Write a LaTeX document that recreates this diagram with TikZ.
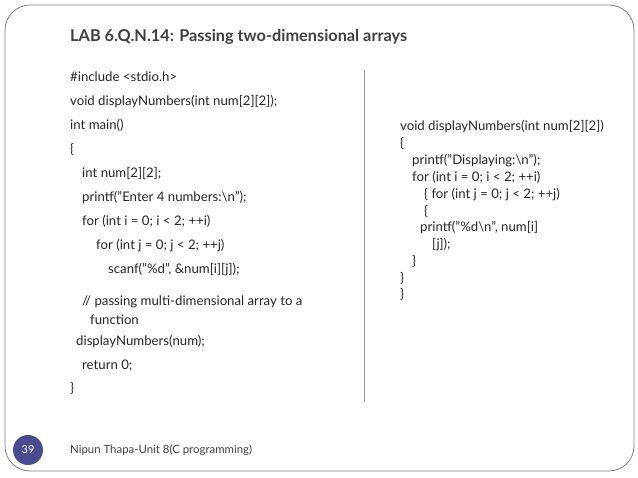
\documentclass[tikz,border=0pt]{standalone}
\usepackage{fontspec}
\setmainfont{Lato}
\definecolor{txt}{HTML}{262626}
\definecolor{ttl}{HTML}{404040}
\definecolor{circ}{HTML}{4B4B8F}
\newcommand{\dq}{\symbol{34}}
\begin{document}
\begin{tikzpicture}[x=1pt,y=-1pt,
 code/.style={anchor=base west,inner sep=0pt,font=\fontsize{13.2}{15}\selectfont,text=txt}]
\useasboundingbox (0,0) rectangle (638,478);
\fill[white] (0,0) rectangle (638,478);
\draw[gray,line width=0.8pt,rounded corners=25pt] (5,5) rectangle (634,471);
\node[code,font=\bfseries\fontsize{16.3}{19}\selectfont,text=ttl] (title) at (70,42) {LAB 6.Q.N.14: Passing two-dimensional arrays};
\draw[gray!80,line width=0.8pt] (364,70) -- (364,402);
% left column
\node[code] (l1) at (70,82) {\#include <stdio.h>};
\node[code] (l2) at (70,106) {void displayNumbers(int num[2][2]);};
\node[code] (l3) at (70,130) {int main()};
\node[code] (l4) at (70,154) {\{};
\node[code] (l5) at (82,178) {int num[2][2];};
\node[code] (l6) at (82,202) {printf(\dq Enter 4 numbers:\textbackslash n\dq);};
\node[code] (l7) at (82,226) {for (int i = 0; i < 2; ++i)};
\node[code] (l8) at (96,250) {for (int j = 0; j < 2; ++j)};
\node[code] (l9) at (108,274) {scanf(\dq\%d\dq, \&num[i][j]);};
\node[code] (l10) at (82,306) {// passing multi-dimensional array to a};
\node[code] (l11) at (90,325) {function};
\node[code] (l12) at (76,346) {displayNumbers(num);};
\node[code] (l13) at (82,370) {return 0;};
\node[code] (l14) at (70,393) {\}};
% right column
\node[code] (r1) at (400,131) {void displayNumbers(int num[2][2])};
\node[code] (r2) at (400,148) {\{};
\node[code] (r3) at (412,165) {printf(\dq Displaying:\textbackslash n\dq);};
\node[code] (r4) at (412,182) {for (int i = 0; i < 2; ++i)};
\node[code] (r5) at (424,199) {\{ for (int j = 0; j < 2; ++j)};
\node[code] (r6) at (424,216) {\{};
\node[code] (r7) at (420,232) {printf(\dq\%d\textbackslash n\dq, num[i]};
\node[code] (r8) at (432,249) {[j]);};
\node[code] (r9) at (412,266) {\}};
\node[code] (r10) at (400,283) {\}};
\node[code] (r11) at (400,299) {\}};
% footer
\fill[circ] (28,450) circle (15);
\node[font=\fontsize{11}{13}\selectfont,text=white] (pg) at (28,450) {39};
\node[code,font=\fontsize{11.4}{13}\selectfont,text=ttl] (ft) at (70,454) {Nipun Thapa-Unit 8(C programming)};
\end{tikzpicture}
\end{document}
